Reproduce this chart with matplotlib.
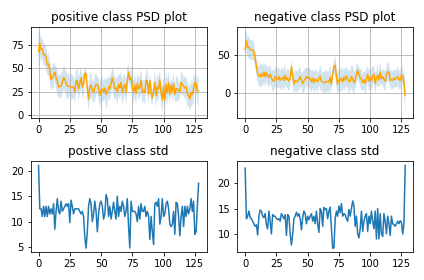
import numpy as np
import matplotlib
matplotlib.use('Agg')
import matplotlib.pyplot as plt
from matplotlib.ticker import MultipleLocator

# mean PSD and std per frequency bin (129 bins)
pos_mean = [68, 78, 70, 71, 65, 65, 62, 54, 55, 47,
            38, 40, 43, 46, 40, 36, 30, 31, 31, 35,
            40, 39, 34, 31, 31, 31, 30, 30, 30, 25,
            36, 37, 28, 34, 40, 30, 33, 45, 44, 28,
            17, 30, 32, 27, 24, 29, 33, 33, 29, 21,
            27, 28, 25, 29, 22, 25, 30, 28, 34, 40,
            35, 28, 29, 25, 33, 29, 35, 24, 30, 33,
            24, 37, 46, 38, 40, 30, 25, 32, 23, 34,
            28, 30, 37, 25, 26, 24, 37, 37, 22, 37,
            25, 18, 26, 35, 21, 30, 28, 38, 24, 16,
            30, 16, 33, 24, 35, 22, 32, 25, 34, 22,
            28, 28, 26, 25, 35, 33, 31, 29, 30, 23,
            21, 17, 24, 22, 28, 35, 34, 26, 26]
pos_std = [21, 12.5, 12.5, 11, 13, 11, 13, 11, 13, 11.5,
           12.5, 11.5, 13.5, 8.5, 12, 14.5, 12, 11.5, 14, 12,
           12.5, 13, 13.5, 13, 13.5, 9.8, 14.2, 13, 11.5, 12.5,
           12.5, 12.5, 12.5, 12, 11.5, 12, 11, 7, 4.8, 8,
           13, 14.5, 13.5, 10, 11.5, 14, 12, 8, 11.5, 13.5,
           14, 13, 10.5, 11.5, 15.3, 14.5, 11, 13, 10.5, 12,
           13.8, 12, 10.5, 15, 11, 13, 12, 14, 13, 11,
           12, 14.5, 9, 4.8, 14, 12, 12, 12, 11.5, 10,
           13, 10.5, 13.5, 12, 12, 13, 11, 12, 11, 6.5,
           11, 8, 5.5, 13.5, 13.8, 13, 14.5, 9.5, 11, 14.5,
           11, 11.5, 13.5, 14, 12.5, 9.5, 9, 9.5, 12, 7.5,
           13.8, 13.5, 11, 7.2, 11, 13, 9, 13, 11, 13,
           11.5, 12.5, 14.5, 12, 14, 7.5, 8, 13, 17.5]
neg_mean = [58, 69, 60, 61, 57, 57, 57, 55, 46, 36,
            26, 23, 22, 26, 22, 28, 22, 27, 22, 21,
            25, 20, 17, 16, 22, 20, 18, 22, 17, 19,
            21, 17, 24, 18, 20, 16, 19, 35, 22, 12,
            17, 15, 16, 18, 22, 17, 13, 16, 19, 22,
            20, 21, 19, 15, 20, 14, 19, 17, 15, 20,
            22, 16, 15, 14, 14, 16, 15, 15, 21, 12,
            25, 35, 37, 22, 12, 18, 17, 20, 15, 21,
            17, 23, 19, 15, 16, 22, 20, 14, 17, 24,
            30, 25, 20, 19, 14, 18, 13, 19, 25, 16,
            21, 17, 23, 25, 13, 20, 24, 17, 28, 19,
            22, 18, 16, 24, 28, 28, 17, 18, 17, 20,
            18, 20, 22, 18, 17, 24, 23, 14, -3]
neg_std = [23, 13, 13.5, 14.5, 13.2, 13, 12.5, 12, 11.5, 11.8,
           9.8, 13.5, 14.7, 14.5, 13.5, 13.2, 14, 11.8, 11, 14.5,
           12.5, 10, 13.8, 13.5, 13.5, 13, 12.8, 13, 12.5, 14,
           13.5, 13, 13.8, 9.7, 13.8, 13.5, 10, 7.8, 10, 13,
           13.5, 14.3, 13.5, 14, 13, 10.8, 13.2, 14.5, 14, 12,
           13.5, 12.8, 13.5, 14, 12.5, 13.5, 12, 14.5, 12, 10.3,
           15, 14.5, 11.5, 15.2, 14.8, 15, 13, 14.5, 15.3, 11,
           7.2, 7.2, 13, 14.5, 13.5, 15.5, 14.2, 16, 13.5, 14,
           13.8, 13, 12.5, 14.8, 13.5, 15, 16.5, 15.5, 11.5, 13.5,
           10, 9.2, 11, 14.5, 10.5, 12.5, 13.5, 14, 10.5, 13.5,
           12, 14.5, 12.5, 11, 14.5, 9, 15, 9, 14, 10,
           9.5, 14, 12.5, 10, 13.5, 12, 9.7, 13.5, 12, 11.8,
           11.5, 12, 12.5, 12, 12.6, 12.3, 10, 12, 23.5]

pos_mean = np.array(pos_mean)
pos_std = np.array(pos_std)
neg_mean = np.array(neg_mean)
neg_std = np.array(neg_std)
x = np.arange(len(pos_mean))

fig, axs = plt.subplots(2, 2, figsize=(424 / 72, 280 / 72), dpi=72)

ax = axs[0, 0]
ax.plot(x, pos_mean, color='orange')
ax.fill_between(x, pos_mean - pos_std, pos_mean + pos_std, alpha=0.2)
ax.grid()
ax.set_title('positive class PSD plot')

ax = axs[0, 1]
ax.plot(x, neg_mean, color='orange')
ax.fill_between(x, neg_mean - neg_std, neg_mean + neg_std, alpha=0.2)
ax.grid()
ax.set_title('negative class PSD plot')

ax = axs[1, 0]
ax.plot(x, pos_std)
ax.set_title('postive class std')

ax = axs[1, 1]
ax.plot(x, neg_std)
ax.set_title('negative class std')

for a in axs.flat:
    a.xaxis.set_major_locator(MultipleLocator(25))

plt.tight_layout()
plt.savefig('out.png', dpi=72)
